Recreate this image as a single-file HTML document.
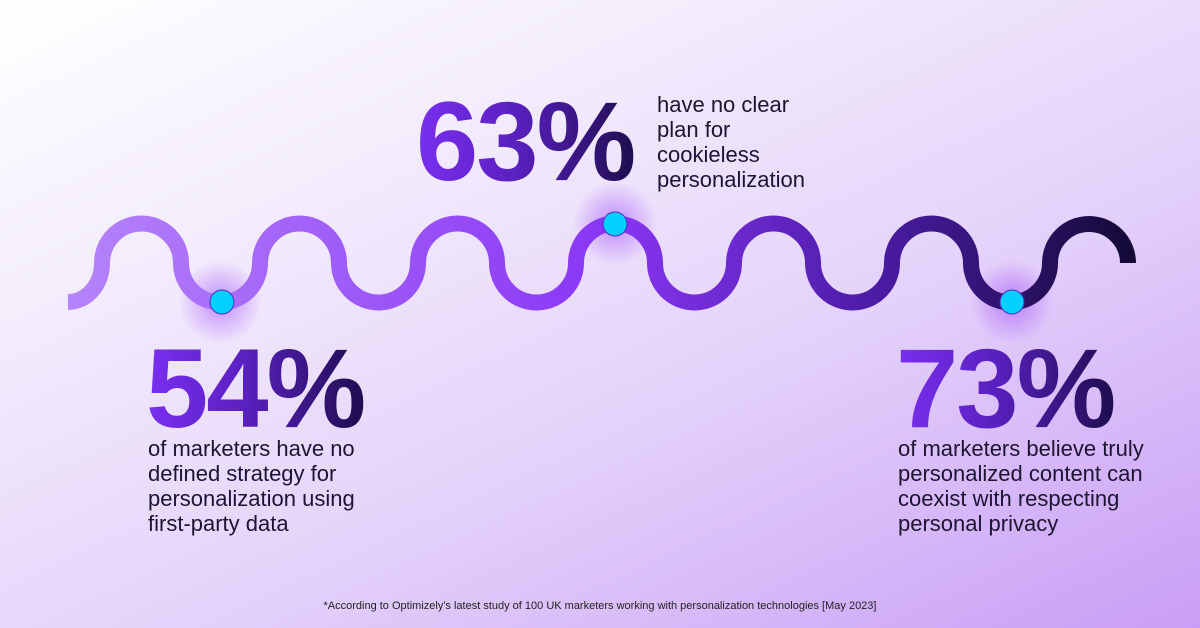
<!DOCTYPE html>
<html><head><meta charset="utf-8"><style>
html,body{margin:0;padding:0}
body{width:1200px;height:628px;overflow:hidden;position:relative;font-family:"Liberation Sans",sans-serif;
background:linear-gradient(155deg,#ffffff 0%,#f2ebfc 30%,#e4d2fa 60%,#c99ef6 100%);}
.big{position:absolute;font-weight:bold;font-size:112px;letter-spacing:-2px;line-height:1;
background:linear-gradient(90deg,#7a2ff0 0%,#5a20c0 45%,#1e0d4e 100%);-webkit-background-clip:text;background-clip:text;color:transparent}
.lbl{position:absolute;font-size:22px;line-height:25px;color:#1c1430}
.foot{position:absolute;left:0;width:1200px;top:600px;text-align:center;font-size:11px;color:#222}
svg{position:absolute;left:0;top:0}
</style></head><body>
<svg width="1200" height="628">
<defs>
<linearGradient id="g" x1="68" y1="0" x2="1135" y2="0" gradientUnits="userSpaceOnUse">
<stop offset="0" stop-color="#b584fa"/><stop offset="0.5" stop-color="#8a36f5"/><stop offset="0.75" stop-color="#4d1ca8"/><stop offset="1" stop-color="#120a35"/>
</linearGradient>
<radialGradient id="gl"><stop offset="0" stop-color="#9b40f5" stop-opacity="0.55"/><stop offset="1" stop-color="#9b40f5" stop-opacity="0"/></radialGradient>
</defs>
<circle cx="220" cy="302" r="42" fill="url(#gl)"/>
<circle cx="615" cy="224" r="42" fill="url(#gl)"/>
<circle cx="1012" cy="302" r="42" fill="url(#gl)"/>
<path d="M68,302 A34,39 0 0 0 102,263 A39.5,39.5 0 0 1 181,263 A39.5,39.5 0 0 0 260,263 A39.5,39.5 0 0 1 339,263 A39.5,39.5 0 0 0 418,263 A39.5,39.5 0 0 1 497,263 A39.5,39.5 0 0 0 576,263 A39.5,39.5 0 0 1 655,263 A39.5,39.5 0 0 0 734,263 A39.5,39.5 0 0 1 813,263 A39.5,39.5 0 0 0 892,263 A39.5,39.5 0 0 1 971,263 A39.5,39.5 0 0 0 1050,263 A39,39 0 0 1 1128,263" fill="none" stroke="url(#g)" stroke-width="16"/>
<circle cx="222" cy="302" r="12" fill="#00cfff" stroke="#5a2bc0" stroke-width="1"/>
<circle cx="615" cy="224" r="12" fill="#00cfff" stroke="#5a2bc0" stroke-width="1"/>
<circle cx="1012" cy="302" r="12" fill="#00cfff" stroke="#5a2bc0" stroke-width="1"/>
</svg>
<div class="big" style="left:416px;top:86px">63%</div>
<div class="lbl" style="left:657px;top:92px">have no clear<br>plan for<br>cookieless<br>personalization</div>
<div class="big" style="left:146px;top:333px">54%</div>
<div class="lbl" style="left:148px;top:436px">of marketers have no<br>defined strategy for<br>personalization using<br>first-party data</div>
<div class="big" style="left:896px;top:333px">73%</div>
<div class="lbl" style="left:898px;top:436px">of marketers believe truly<br>personalized content can<br>coexist with respecting<br>personal privacy</div>
<div class="foot">*According to Optimizely's latest study of 100 UK marketers working with personalization technologies [May 2023]</div>
</body></html>
